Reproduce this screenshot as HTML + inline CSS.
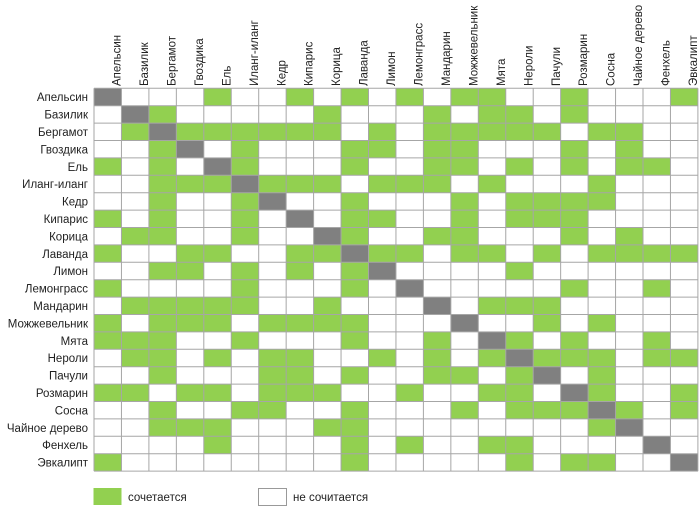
<!DOCTYPE html>
<html><head><meta charset="utf-8"><style>
html,body{margin:0;padding:0;background:#fff;width:700px;height:509px;overflow:hidden}
svg{display:block;font-family:"Liberation Sans","DejaVu Sans",sans-serif;font-size:11.5px;fill:#222}
</style></head><body>
<svg id="s" width="700" height="509" xmlns="http://www.w3.org/2000/svg">
<g id="cells"></g>
<g text-anchor="start">
<text transform="translate(120.5,86) rotate(-90)">Апельсин</text>
<text transform="translate(148,86) rotate(-90)">Базилик</text>
<text transform="translate(175.5,86) rotate(-90)">Бергамот</text>
<text transform="translate(203,86) rotate(-90)">Гвоздика</text>
<text transform="translate(230.4,86) rotate(-90)">Ель</text>
<text transform="translate(257.8,86) rotate(-90)">Иланг-иланг</text>
<text transform="translate(285.3,86) rotate(-90)">Кедр</text>
<text transform="translate(312.7,86) rotate(-90)">Кипарис</text>
<text transform="translate(340.2,86) rotate(-90)">Корица</text>
<text transform="translate(367.6,86) rotate(-90)">Лаванда</text>
<text transform="translate(395.1,86) rotate(-90)">Лимон</text>
<text transform="translate(422.5,86) rotate(-90)">Лемонграсс</text>
<text transform="translate(450,86) rotate(-90)">Мандарин</text>
<text transform="translate(477.4,86) rotate(-90)">Можжевельник</text>
<text transform="translate(504.9,86) rotate(-90)">Мята</text>
<text transform="translate(532.3,86) rotate(-90)">Нероли</text>
<text transform="translate(559.8,86) rotate(-90)">Пачули</text>
<text transform="translate(587.2,86) rotate(-90)">Розмарин</text>
<text transform="translate(614.7,86) rotate(-90)">Сосна</text>
<text transform="translate(642.1,86) rotate(-90)">Чайное дерево</text>
<text transform="translate(669.6,86) rotate(-90)">Фенхель</text>
<text transform="translate(697,86) rotate(-90)">Эвкалипт</text>
</g>
<g text-anchor="end">
<text x="88" y="101.2">Апельсин</text>
<text x="88" y="118.6">Базилик</text>
<text x="88" y="136">Бергамот</text>
<text x="88" y="153.4">Гвоздика</text>
<text x="88" y="170.8">Ель</text>
<text x="88" y="188.2">Иланг-иланг</text>
<text x="88" y="205.6">Кедр</text>
<text x="88" y="223">Кипарис</text>
<text x="88" y="240.4">Корица</text>
<text x="88" y="257.8">Лаванда</text>
<text x="88" y="275.2">Лимон</text>
<text x="88" y="292.6">Лемонграсс</text>
<text x="88" y="310">Мандарин</text>
<text x="88" y="327.4">Можжевельник</text>
<text x="88" y="344.8">Мята</text>
<text x="88" y="362.2">Нероли</text>
<text x="88" y="379.6">Пачули</text>
<text x="88" y="397">Розмарин</text>
<text x="88" y="414.4">Сосна</text>
<text x="88" y="431.8">Чайное дерево</text>
<text x="88" y="449.2">Фенхель</text>
<text x="88" y="466.6">Эвкалипт</text>
</g>
<rect x="93.5" y="488" width="28" height="17" fill="#92d050"/>
<text x="128" y="501">сочетается</text>
<rect x="258.5" y="488.5" width="28" height="17" fill="#fff" stroke="#999"/>
<text x="293" y="501">не сочитается</text>
</svg>
<script>
var M=["2000100101010110010001","0210000010001011010000","0121111110101111101100","0012010001101100010100","1010210001001101010110","0011121110111010001000","0010012001000101111000","1010010201100101110000","0110010021001100010100","1001100112110110101111","0011010101200001000000","1000010001020000010010","0111110010002011100000","1011101111000200101000","1110010001001021010010","0110101100101012111011","0010001101001101201000","1101101110010011021001","0010011001000101112101","0011100011000000001200","0000100001010011000020","1000000001000001011002"];
var g=document.getElementById('cells'),ns="http://www.w3.org/2000/svg",x0=94,y0=88.3,w=27.45,h=17.4,html="";
for(var r=0;r<22;r++)for(var c=0;c<22;c++){var v=M[r][c];var f=v=="1"?"#92d050":v=="2"?"#808080":"#fff";
html+='<rect x="'+(x0+c*w)+'" y="'+(y0+r*h)+'" width="'+w+'" height="'+h+'" fill="'+f+'"/>';}
for(var i=0;i<=22;i++){html+='<line x1="'+(x0+i*w)+'" y1="'+y0+'" x2="'+(x0+i*w)+'" y2="'+(y0+22*h)+'" stroke="#a6a6a6" stroke-width="1"/>';
html+='<line x1="'+x0+'" y1="'+(y0+i*h)+'" x2="'+(x0+22*w)+'" y2="'+(y0+i*h)+'" stroke="#a6a6a6" stroke-width="1"/>';}
g.innerHTML=html;
</script>
</body></html>
